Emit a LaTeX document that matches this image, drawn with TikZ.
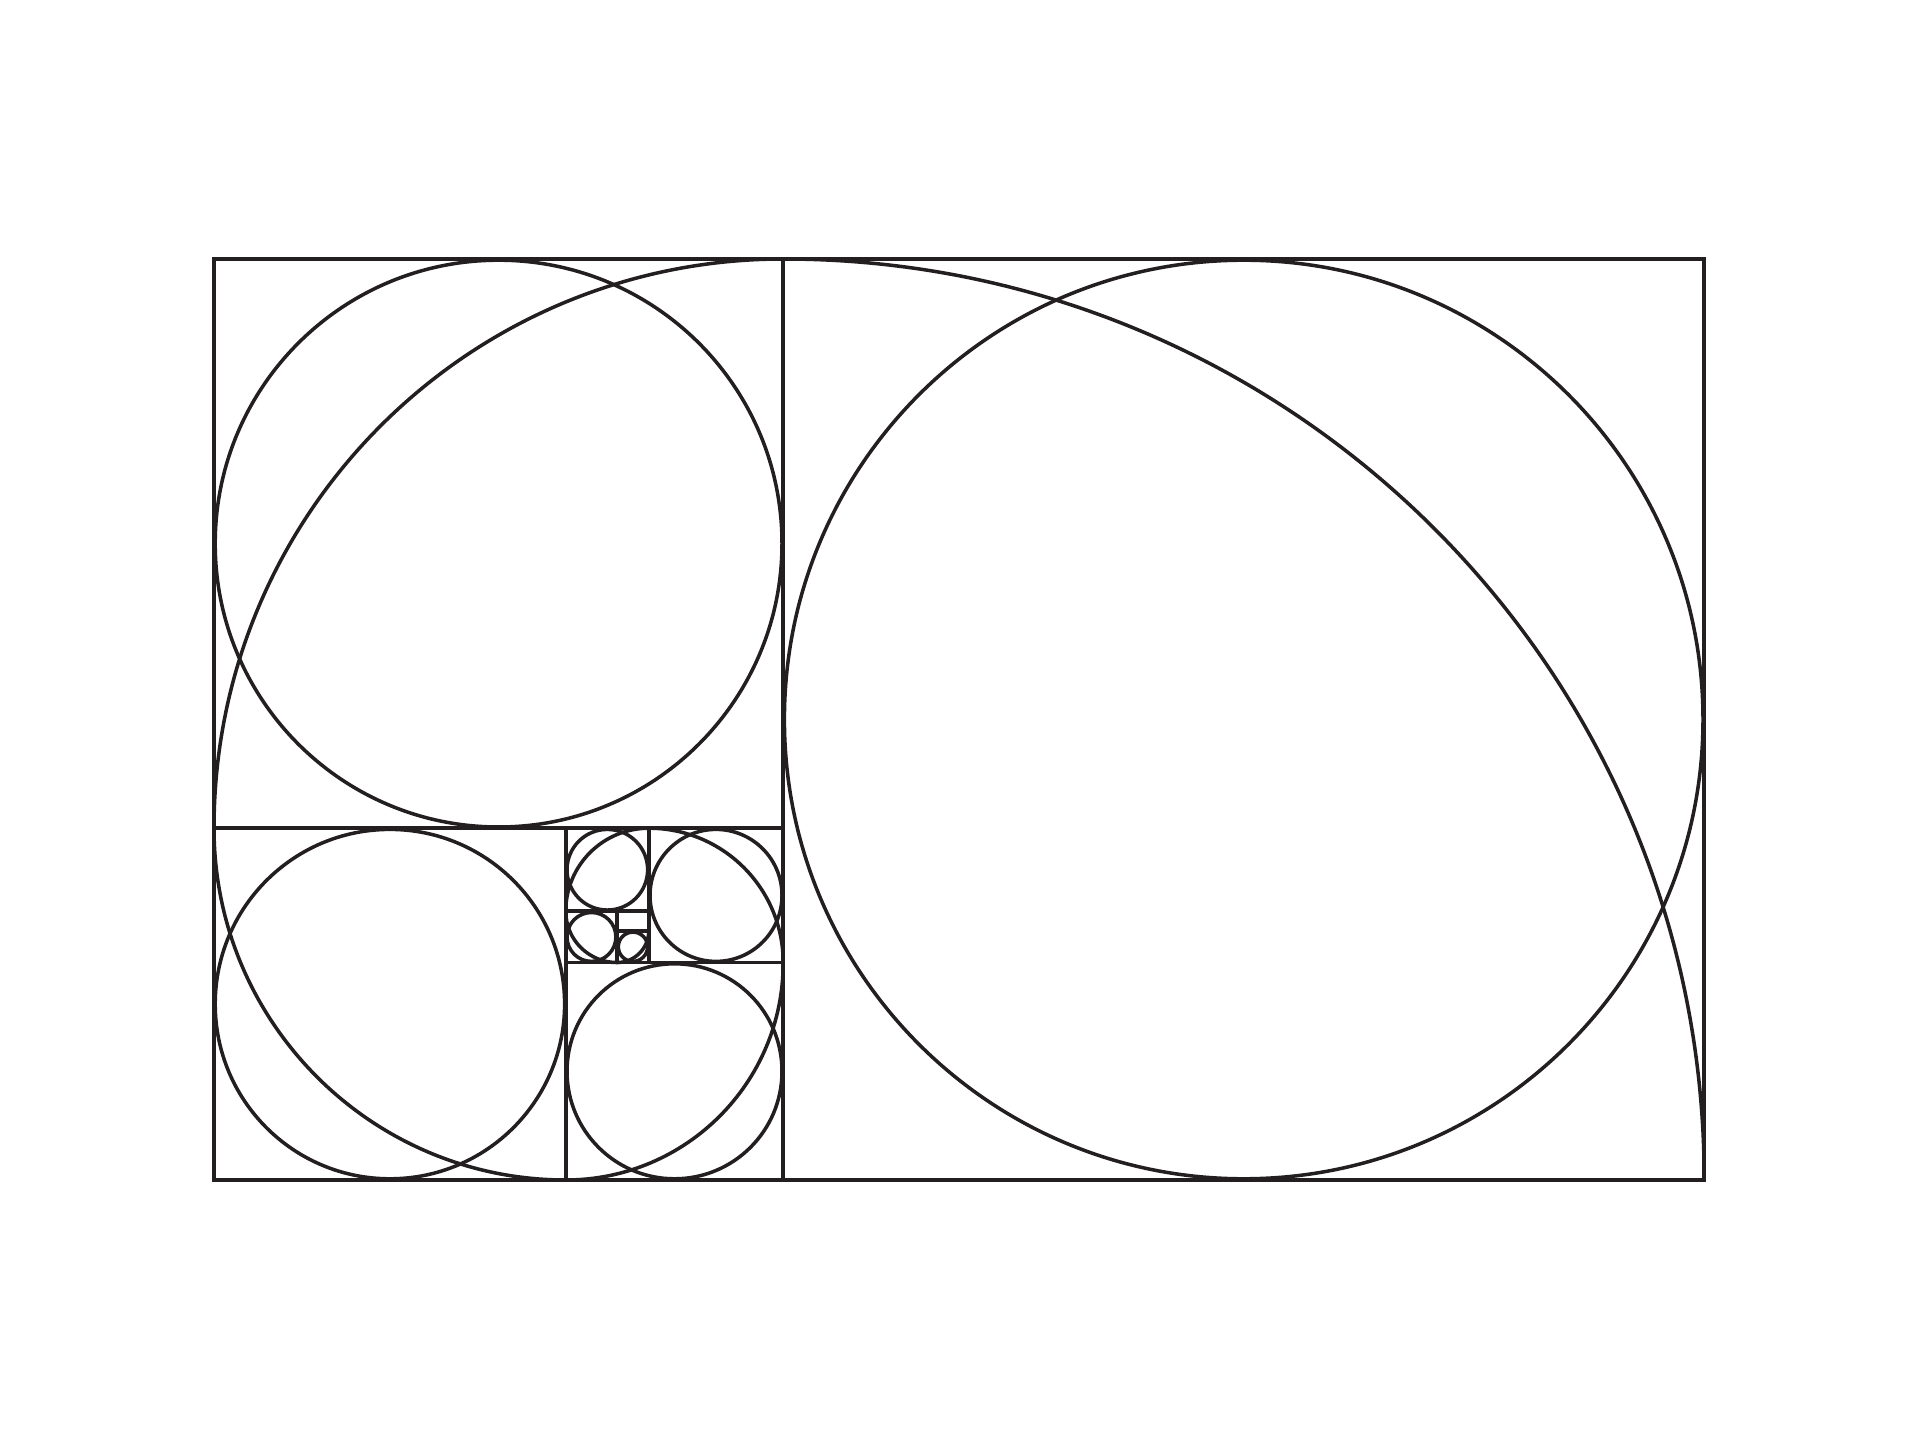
\documentclass[tikz,border=0pt]{standalone}
\definecolor{ink}{RGB}{35,31,32}
\begin{document}
\begin{tikzpicture}[gold/.style={ink, line width=1pt}]
\useasboundingbox (0,0) rectangle (19.2,14.4);

% outer golden rectangle
\draw[gold] (2.14,2.6) rectangle (17.042,11.81);

% squares with their circles
\foreach \x/\y/\s in {7.832/2.6/9.21, 2.14/6.118/5.692, 2.14/2.6/3.518, 5.658/2.6/2.174,
                      6.488/4.774/1.344, 5.658/5.2875/0.8305, 5.658/4.774/0.513, 6.171/4.774/0.317}
{
  \draw[gold] (\x,\y) rectangle ++(\s,\s);
  \draw[gold] (\x+\s/2,\y+\s/2) circle (\s/2-0.012);
}
\draw[gold] (6.171,5.091) rectangle (6.488,5.2875);

% spiral
\draw[gold] (17.042,2.6) \foreach \r [count=\i from 0] in {9.21,5.692,3.518,2.174,1.344,0.8305,0.513,0.317}
  { arc[start angle=90*\i, end angle=90*\i+90, radius=\r] };

\end{tikzpicture}
\end{document}
